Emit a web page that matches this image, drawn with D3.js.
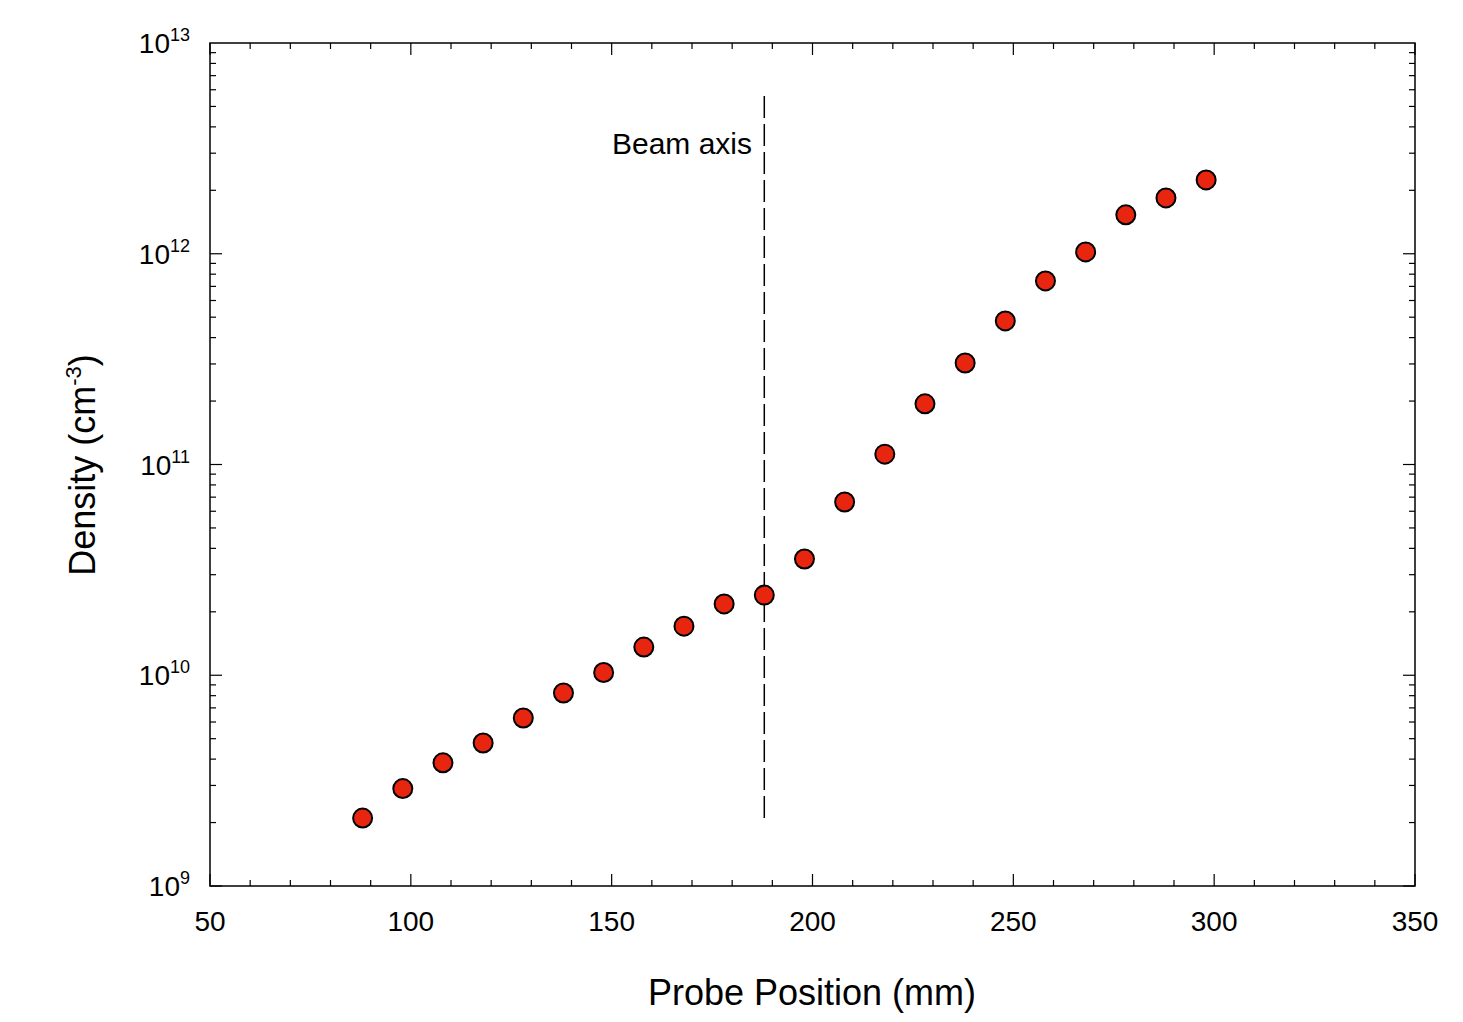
<!DOCTYPE html><html><head><meta charset="utf-8"><script src="https://cdn.jsdelivr.net/npm/d3@7"></script>
<style>body{margin:0;background:#fff}text{font-family:Arial,"Liberation Sans",sans-serif}</style></head><body>
<svg id="c" width="1463" height="1022"></svg>
<script>
const positions=[88,98,108,118,128,138,148,158,168,178,188,198,208,218,228,238,248,258,268,278,288,298];
const densities=[2.1e9,2.9e9,3.84e9,4.77e9,6.27e9,8.24e9,1.03e10,1.36e10,1.71e10,2.18e10,2.40e10,3.56e10,6.64e10,1.12e11,1.94e11,3.03e11,4.80e11,7.43e11,1.02e12,1.53e12,1.84e12,2.24e12];
const beamAxis={x:188,y0:2.1e9,y1:5.8e12};
const xTicks=[50,100,150,200,250,300,350];
const yExps=[9,10,11,12,13];
const svg=d3.select("#c");
const L=210,R=1415,T=43,B=886;
const x=d3.scaleLinear().domain([50,350]).range([L,R]);
const y=d3.scaleLog().domain([1e9,1e13]).range([B,T]);
const g=svg.append("g");
g.append("rect").attr("x",L).attr("y",T).attr("width",R-L).attr("height",B-T).attr("fill","none").attr("stroke","#000").attr("stroke-width",1.5);
// x ticks
for(let v=50;v<=350;v+=10){const maj=v%50===0,len=maj?12:6,px=x(v);
 g.append("line").attr("x1",px).attr("x2",px).attr("y1",B).attr("y2",B-len).attr("stroke","#000").attr("stroke-width",1.2);
 g.append("line").attr("x1",px).attr("x2",px).attr("y1",T).attr("y2",T+len).attr("stroke","#000").attr("stroke-width",1.2);}
xTicks.forEach(v=>g.append("text").attr("x",x(v)).attr("y",931).attr("text-anchor","middle").attr("font-size",28).text(v));
// y ticks
for(let e=9;e<13;e++)for(let m=1;m<10;m++){const v=m*Math.pow(10,e),py=y(v),len=m===1?12:6;
 g.append("line").attr("x1",L).attr("x2",L+len).attr("y1",py).attr("y2",py).attr("stroke","#000").attr("stroke-width",1.2);
 g.append("line").attr("x1",R).attr("x2",R-len).attr("y1",py).attr("y2",py).attr("stroke","#000").attr("stroke-width",1.2);}
yExps.forEach(e=>{const t=g.append("text").attr("x",190).attr("y",y(Math.pow(10,e))+10).attr("text-anchor","end").attr("font-size",28);
 t.append("tspan").text("10");t.append("tspan").attr("dy",-12).attr("font-size",18).text(e);});
// labels
svg.append("text").attr("x",812).attr("y",1005).attr("text-anchor","middle").attr("font-size",36).text("Probe Position (mm)");
const yl=svg.append("text").attr("transform","translate(95,465) rotate(-90)").attr("text-anchor","middle").attr("font-size",36);
yl.append("tspan").text("Density (cm");yl.append("tspan").attr("dy",-14).attr("font-size",22).text("-3");yl.append("tspan").attr("dy",14).text(")");
// beam axis
g.append("line").attr("x1",x(beamAxis.x)).attr("x2",x(beamAxis.x)).attr("y1",y(beamAxis.y0)).attr("y2",y(beamAxis.y1)).attr("stroke","#000").attr("stroke-width",1.5).attr("stroke-dasharray","22,6");
svg.append("text").attr("x",752).attr("y",154).attr("text-anchor","end").attr("font-size",30).text("Beam axis");
// points
g.selectAll("circle").data(positions).join("circle").attr("cx",d=>x(d)).attr("cy",(d,i)=>y(densities[i])).attr("r",9.5).attr("fill","#e8260f").attr("stroke","#000").attr("stroke-width",2);
</script></body></html>
